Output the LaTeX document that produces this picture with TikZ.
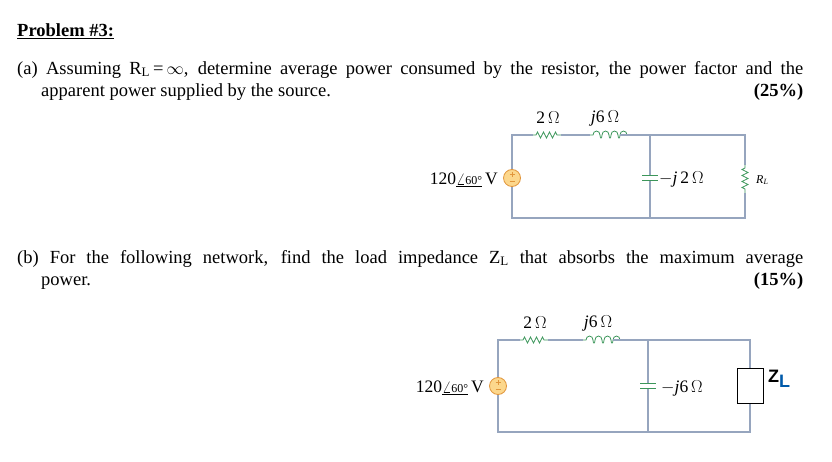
\documentclass[tikz,border=0pt]{standalone}
\usepackage{fontspec}
\setmainfont{Liberation Serif}
\newfontfamily\zlfont{Liberation Sans}
\definecolor{wire}{RGB}{150,165,190}
\definecolor{comp}{RGB}{60,150,90}
\definecolor{srcfill}{RGB}{252,215,140}
\definecolor{srcedge}{RGB}{225,150,60}
\definecolor{zlblue}{RGB}{0,90,170}
\tikzset{
  wirel/.style={draw=wire,line width=1.1pt},
  compl/.style={draw=comp,line width=0.8pt},
  src/.style={circle,draw=srcedge,fill=srcfill,line width=0.8pt,minimum size=17pt,inner sep=0pt},
  lbl/.style={font=\fontsize{17.5}{17.5}\selectfont,inner sep=1pt},
  para/.style={font=\fontsize{18.5}{22}\selectfont,inner sep=0pt,anchor=north west,text width=786pt,align=justify},
  pics/res/.style={code={\draw[compl] (0,0) -- (3,0) -- (4.5,-3) -- (7.5,3) -- (10.5,-3) -- (13.5,3) -- (16.5,-3) -- (19.5,3) -- (22.5,-3) -- (24,0) -- (28,0);}},
  pics/vres/.style={code={\draw[compl] (0,0) -- (0,3) -- (-3,4.5) -- (3,7.5) -- (-3,10.5) -- (3,13.5) -- (-3,16.5) -- (3,19.5) -- (-3,22.5) -- (0,24) -- (0,28);}},
  pics/ind/.style={code={\draw[compl] (0,0) -- (3,0) arc(180:360:3.5 and 4) arc(180:0:1 and 3) arc(180:360:3.5 and 4) arc(180:0:1 and 3) arc(180:360:3.5 and 4) arc(180:0:1 and 3) arc(180:360:3.5 and 4) -- (30,0);}},
}
\newcommand{\srcsigns}[1]{%
  \draw[srcedge,line width=0.8pt] ($(#1)+(0,-6)$) -- ($(#1)+(0,-1)$) ($(#1)+(-2.5,-3.5)$) -- ($(#1)+(2.5,-3.5)$) ($(#1)+(-2.5,3.5)$) -- ($(#1)+(2.5,3.5)$);}
\usetikzlibrary{calc}
\begin{document}
\begin{tikzpicture}[x=1pt,y=-1pt]
\useasboundingbox (0,0) rectangle (832,462);
\node[anchor=west,inner sep=0pt,font=\fontsize{18.5}{20}\selectfont\bfseries] (title) at (17,31) {\underline{Problem \#3:}};
\node[para] (pa) at (17,61) {(a) Assuming R\textsubscript{L}\,=\,$\infty$, determine average power consumed by the resistor, the power factor and the\linebreak \hspace*{24pt}apparent power supplied by the source.\hfill\textbf{(25\%)}\hspace*{8pt}};
\node[para] (pb) at (17,250) {(b) For the following network, find the load impedance Z\textsubscript{L} that absorbs the maximum average\linebreak \hspace*{24pt}power.\hfill\textbf{(15\%)}\hspace*{8pt}};

% circuit a
\draw[wirel] (512,171) -- (512,135) -- (533,135);
\pic at (533,135) {res};
\draw[wirel] (561,135) -- (590,135);
\pic at (590,135) {ind};
\draw[wirel] (620,135) -- (745,135) -- (745,165);
\pic at (745,165) {vres};
\draw[wirel] (745,193) -- (745,218) -- (512,218) -- (512,185);
\draw[wirel] (650,135) -- (650,175.5) (650,180.5) -- (650,218);
\draw[compl] (642,175.5) -- (658,175.5) (642,180.5) -- (658,180.5);
\node[src] (sa) at (512,178) {};
\srcsigns{sa}
\node[lbl,anchor=east] (va) at (499,180) {120\underline{\smash{$\angle$}\fontsize{12}{12}\selectfont 60\textdegree}\,V};
\node[lbl] (ra) at (548,118) {2\,$\Omega$};
\node[lbl] (la) at (605,118) {\textit{j}6\,$\Omega$};
\node[lbl,anchor=west] (ca) at (658,179) {$-$\textit{j}\,2\,$\Omega$};
\node[lbl,anchor=west,font=\fontsize{12}{12}\selectfont] (rla) at (755,180) {\textit{R\textsubscript{L}}};

% circuit b
\draw[wirel] (498,379) -- (498,340) -- (520,340);
\pic at (520,340) {res};
\draw[wirel] (548,340) -- (583,340);
\pic at (583,340) {ind};
\draw[wirel] (613,340) -- (750,340) -- (750,368);
\draw[wirel] (750,404) -- (750,432) -- (498,432) -- (498,393);
\draw[wirel] (648,340) -- (648,383.5) (648,388.5) -- (648,432);
\draw[compl] (640,383.5) -- (656,383.5) (640,388.5) -- (656,388.5);
\node[draw=black,line width=0.8pt,minimum width=26pt,minimum height=35pt,inner sep=0pt,fill=white] (zl) at (750,386) {};
\node[src] (sb) at (498,386) {};
\srcsigns{sb}
\node[lbl,anchor=east] (vb) at (485,388) {120\underline{\smash{$\angle$}\fontsize{12}{12}\selectfont 60\textdegree}\,V};
\node[lbl] (rb) at (535,323) {2\,$\Omega$};
\node[lbl] (lb) at (598,323) {\textit{j}6\,$\Omega$};
\node[lbl,anchor=west] (cb) at (660,388) {$-$\textit{j}6\,$\Omega$};
\node[anchor=west,inner sep=0pt,font=\zlfont\fontsize{18}{18}\selectfont\bfseries] (zlt) at (768,379) {Z\raisebox{-5pt}{\textcolor{zlblue}{L}}};
\end{tikzpicture}
\end{document}
